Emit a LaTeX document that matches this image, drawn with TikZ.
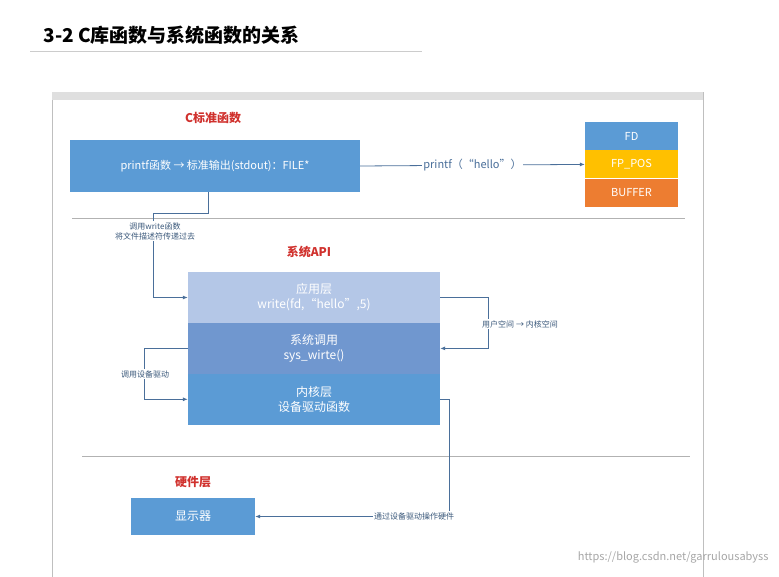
\documentclass[tikz,border=0pt]{standalone}
\usepackage{fontspec}
\setmainfont{Noto Sans CJK SC}
\usetikzlibrary{arrows.meta,positioning,calc}
\definecolor{lineblue}{HTML}{4A6F9A}
\definecolor{boxblue}{HTML}{5B9BD5}
\definecolor{appblue}{HTML}{B4C7E7}
\definecolor{sysblue}{HTML}{7097CF}
\definecolor{titlered}{HTML}{D0312D}
\definecolor{cellyellow}{HTML}{FFC000}
\definecolor{cellorange}{HTML}{ED7D31}
\tikzset{main base/.style={text=white,inner sep=0pt,align=center}, }
\tikzset{main node/.style={rectangle,fill=boxblue,main base}, }
\tikzset{layer/.style={main node,minimum width=252pt,minimum height=50.5pt,font=\fontsize{12}{15}\selectfont}, }
\tikzset{cell/.style={main node,minimum width=93pt,minimum height=28pt,font=\fontsize{11}{13}\selectfont}, }
\tikzset{head/.style={text=titlered,font=\fontsize{12}{14}\selectfont\bfseries}, }
\tikzset{note/.style={text=lineblue!80!black,font=\fontsize{8}{10}\selectfont,fill=white,inner sep=1pt,align=center}, }
\tikzset{linea/.style={-{Latex[length=5pt,width=4pt]},draw=lineblue,thick}}
\tikzset{sep/.style={draw=gray!60}}
\begin{document}
\begin{tikzpicture}[x=1pt,y=-1pt]
\useasboundingbox (0,0) rectangle (779,576);
% slide
\node[anchor=west,font=\fontsize{19}{22}\selectfont\bfseries] (title) at (40,35) {3-2 C库函数与系统函数的关系};
\draw[gray!40] (30,51) -- (422,51);
\draw[gray!50] (52,92) rectangle (703,578);
\fill[gray!25] (52,92) rectangle (703,100);
% C standard
\node[head] (chead) at (213,118) {C标准函数};
\node[main node,minimum width=290pt,minimum height=52pt,font=\fontsize{11}{13}\selectfont] (stdout) at (215,166) {printf函数 → 标准输出(stdout)：FILE*};
\node[cell] (fd) at (631.5,136) {FD};
\node[cell,fill=cellyellow] (fppos) [below=0pt of fd] {FP\_POS};
\node[cell,fill=cellorange] (buffer) [below=0pt of fppos] {BUFFER};
\path[linea] (stdout.east) -- node[fill=white,text=lineblue,font=\fontsize{11}{13}\selectfont,inner sep=1pt] (call) {printf（“hello”）} (fppos.west);
\draw[sep] (72,218) -- (685,218);
% system API
\node[head] (apihead) at (309,252) {系统API};
\node[layer,fill=appblue] (app) at (314,297.5) {应用层\\write(fd,“hello”,5)};
\node[layer,fill=sysblue] (sys) [below=0pt of app] {系统调用\\sys\_wirte()};
\node[layer] (kernel) [below=0pt of sys] {内核层\\设备驱动函数};
\coordinate (down) at (208,213);
\coordinate (left) at (153,213);
\path[linea] (stdout.south -| down) -- (down) -- (left) -- (left |- app.west) -- (app.west);
\node[note] (wlabel) at (155,231) {调用write函数\\将文件描述符传递过去};
\coordinate (uright) at (488,0);
\path[linea] (app.east) -- (app.east -| uright) -- (sys.east -| uright) -- (sys.east);
\node[note] (ulabel) at (520,324) {用户空间 → 内核空间};
\coordinate (dleft) at (144,0);
\path[linea] (sys.west) -- (sys.west -| dleft) -- (kernel.west -| dleft) -- (kernel.west);
\node[note] (dlabel) at (145,374) {调用设备驱动};
\draw[sep] (82,456) -- (690,456);
% hardware
\node[head] (hwhead) at (193,482) {硬件层};
\node[main node,minimum width=124pt,minimum height=37pt,font=\fontsize{12}{14}\selectfont] (screen) at (193,516.5) {显示器};
\coordinate (hright) at (449,0);
\path[linea] (kernel.east) -- (kernel.east -| hright) -- (screen.east -| hright) -- (screen.east);
\node[note] (hlabel) at (414,516) {通过设备驱动操作硬件};
\node[text=gray!70,font=\fontsize{11}{13}\selectfont,anchor=east] (mark) at (772,557) {https://blog.csdn.net/garrulousabyss};
\end{tikzpicture}
\end{document}
